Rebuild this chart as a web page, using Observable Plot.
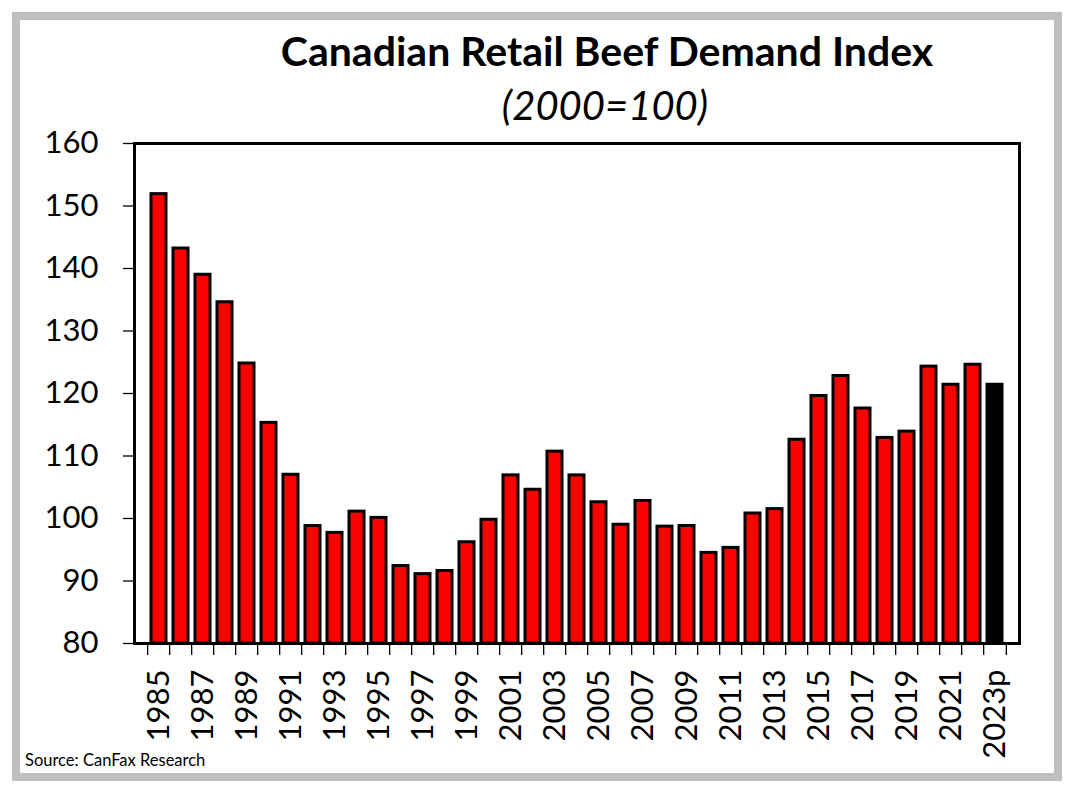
<!DOCTYPE html>
<html>
<head>
<meta charset="utf-8">
<script src="https://cdn.jsdelivr.net/npm/d3@7"></script>
<script src="https://cdn.jsdelivr.net/npm/@observablehq/plot@0.6"></script>
<style>
  html, body { margin: 0; padding: 0; background: #fff; }
  #page { position: relative; width: 1072px; height: 786px; overflow: hidden; font-family: Lato, "Open Sans", sans-serif; color: #000; }
  #border { position: absolute; left: 12px; top: 12px; width: 1034px; height: 753px; border: 8px solid #bfbfbf; }
  #title { position: absolute; left: 157px; width: 900px; top: 26px; text-align: center; font-weight: bold; font-size: 41px; line-height: 50px; }
  #subtitle { position: absolute; left: 155px; width: 900px; top: 80px; text-align: center; font-style: italic; font-size: 40px; line-height: 50px; }
  #chart { position: absolute; left: 0; top: 130px; }
  #caption { position: absolute; left: 25px; top: 750px; font-size: 16.5px; line-height: 20px; }
</style>
</head>
<body>
<div id="page">
  <div id="border"></div>
  <div id="title">Canadian Retail Beef Demand Index</div>
  <div id="subtitle">(2000=100)</div>
  <div id="chart"></div>
  <div id="caption">Source: CanFax Research</div>
</div>
<script>
// Retail beef demand index, 2000 = 100 (2023 is preliminary)
const years = [
  "1985","1986","1987","1988","1989","1990","1991","1992","1993","1994",
  "1995","1996","1997","1998","1999","2000","2001","2002","2003","2004",
  "2005","2006","2007","2008","2009","2010","2011","2012","2013","2014",
  "2015","2016","2017","2018","2019","2020","2021","2022","2023p"
];
const demandIndex = [
  151.9, 143.2, 139.0, 134.6, 124.8, 115.3, 107.0, 98.8, 97.7, 101.1,
  100.1, 92.4, 91.1, 91.6, 96.2, 99.8, 106.9, 104.6, 110.7, 106.9,
  102.6, 99.0, 102.8, 98.7, 98.8, 94.5, 95.3, 100.8, 101.5, 112.6,
  119.6, 122.8, 117.6, 112.9, 113.9, 124.3, 121.4, 124.6, 121.4
];
const preliminaryYear = "2023p";
const yTicks = [80, 90, 100, 110, 120, 130, 140, 150, 160];
const labelledYears = years.filter((d, i) => i % 2 === 0);

const data = years.map((year, i) => ({year, value: demandIndex[i]}));

const width = 1072, height = 630;
const marginLeft = 134, marginRight = 53, marginTop = 13, marginBottom = 117;
const step = (width - marginLeft - marginRight) / years.length;

const chart = Plot.plot({
  width, height, marginLeft, marginRight, marginTop, marginBottom,
  style: {fontFamily: "Lato, 'Open Sans', sans-serif", fontSize: "31px", color: "#000", background: "transparent", overflow: "visible"},
  x: {type: "band", domain: years, paddingInner: 0.3, paddingOuter: 0.15, label: null},
  y: {domain: [80, 160], label: null},
  marks: [
    Plot.barY(data.filter(d => d.year !== preliminaryYear), {x: "year", y1: 80, y2: "value", fill: "#ff0000", stroke: "#000", strokeWidth: 3}),
    Plot.barY(data.filter(d => d.year === preliminaryYear), {x: "year", y1: 80, y2: "value", fill: "#000", stroke: "#000", strokeWidth: 3}),
    // category boundary ticks below the axis
    Plot.axisX({tickSize: 12, tickFormat: () => "", dx: -step / 2, strokeWidth: 1.3}),
    Plot.axisX({ticks: [preliminaryYear], tickSize: 12, tickFormat: () => "", dx: step / 2, strokeWidth: 1.3}),
    // rotated year labels
    Plot.axisX({ticks: labelledYears, tickSize: 0, tickPadding: 26, tickRotate: -90, fontSize: 31}),
    Plot.axisY({ticks: yTicks, tickSize: 11, tickPadding: 25, fontSize: 31, strokeWidth: 1.3}),
    Plot.frame({stroke: "#000", strokeWidth: 3})
  ]
});
document.getElementById("chart").appendChild(chart);
</script>
</body>
</html>
